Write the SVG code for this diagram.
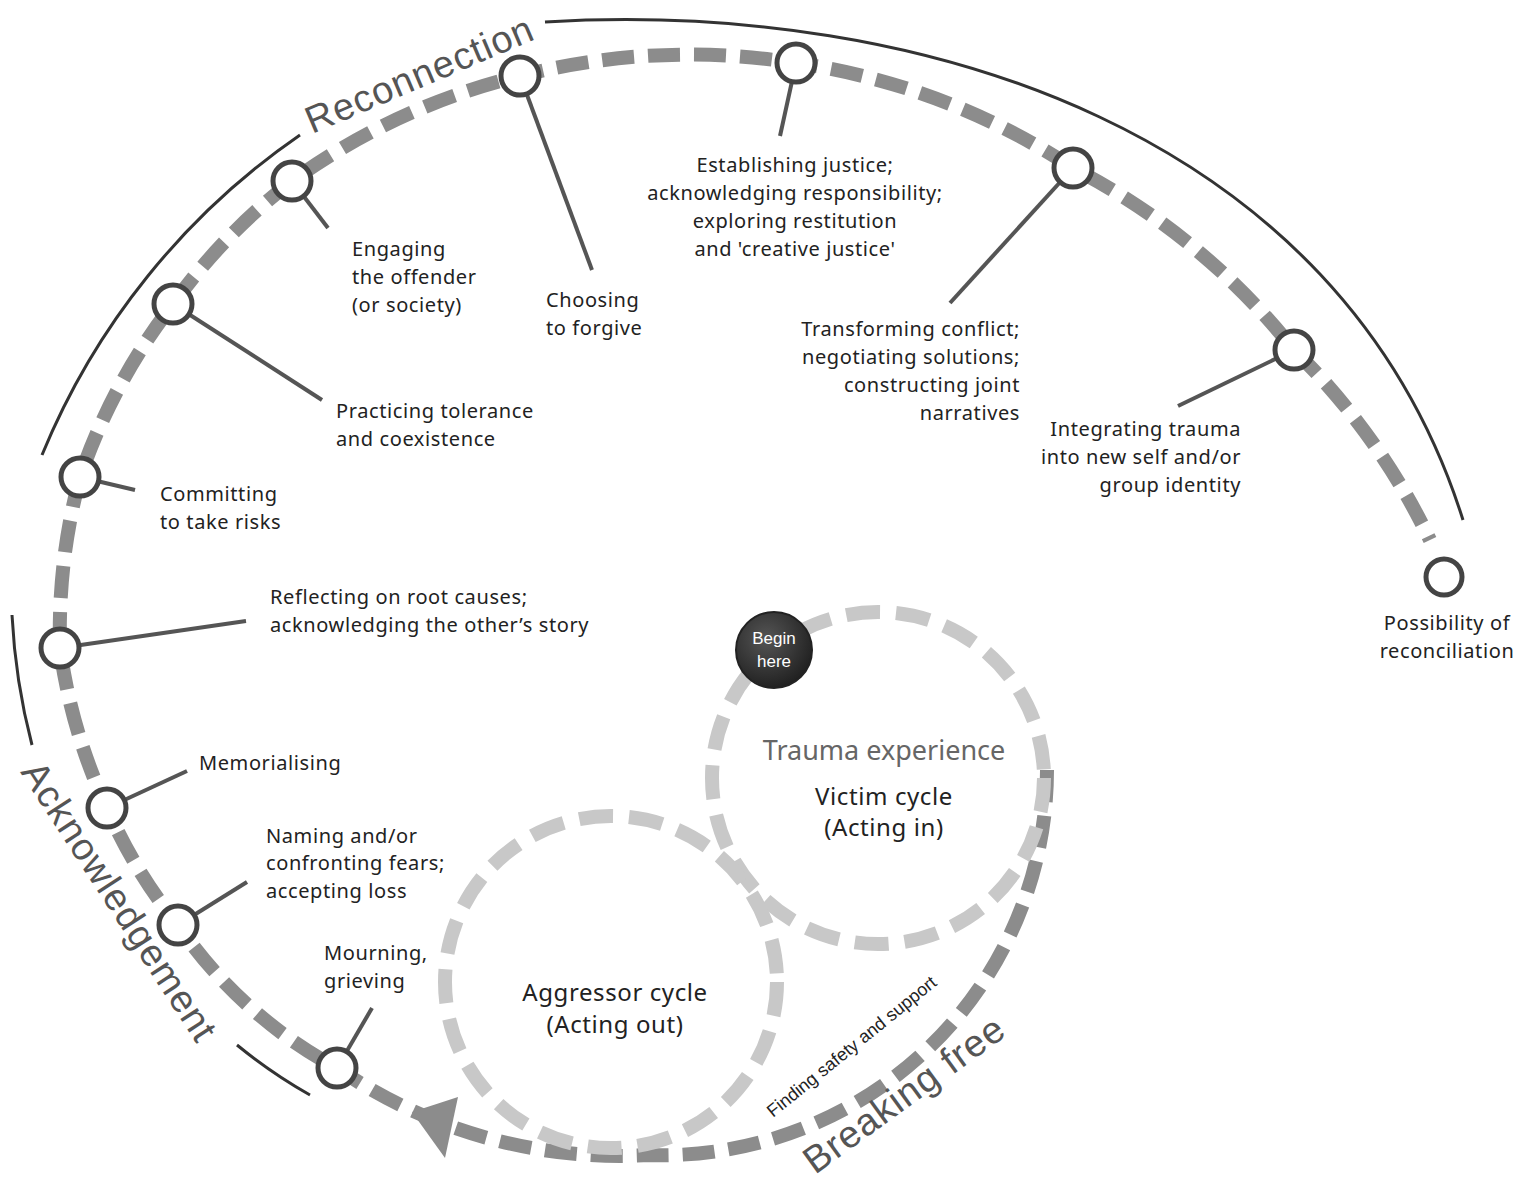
<svg xmlns="http://www.w3.org/2000/svg" width="1517" height="1184" viewBox="0 0 1517 1184">
<defs>
<style>
.t{font-family:"Noto Sans","Liberation Sans",sans-serif;font-size:20px;fill:#222;letter-spacing:0.6px}
.r{text-anchor:end}.m{text-anchor:middle}
.big{font-family:"Liberation Sans",sans-serif;font-size:38px;fill:#555;letter-spacing:1px}
.node circle{fill:#fff;stroke:#444;stroke-width:5}
.node line{stroke:#555;stroke-width:4}
.thin{fill:none;stroke:#333;stroke-width:3}
.cyc{fill:none;stroke:#c8c8c8;stroke-width:14;stroke-dasharray:34 16}
</style>
<radialGradient id="bg" cx="0.4" cy="0.35" r="0.7"><stop offset="0" stop-color="#555"/><stop offset="1" stop-color="#1e1e1e"/></radialGradient>
</defs>
<rect width="1517" height="1184" fill="#fff"/>
<g id="connectors">
<path class="thin" d="M42 455 A720 720 0 0 1 300 135"/>
<path class="thin" d="M545 22 C920 0 1340 130 1463 520"/>
<path class="thin" d="M12 615 A640 640 0 0 0 32 745"/>
<path class="thin" d="M237 1045 A520 520 0 0 0 310 1095"/>
<path d="M1047 770 A385 385 0 0 1 650 1155 A500 500 0 0 1 337 1068 A450 450 0 0 1 178 925 A500 500 0 0 1 107 808 A550 550 0 0 1 60 648 A600 600 0 0 1 80 477 A600 600 0 0 1 173 304 A600 600 0 0 1 292 181 A650 650 0 0 1 520 76 A680 680 0 0 1 796 63 A680 680 0 0 1 1073 168 A680 680 0 0 1 1294 350 A680 680 0 0 1 1430 540" fill="none" stroke="#8c8c8c" stroke-width="14" stroke-dasharray="32 14"/>
</g>
<g id="victim"><circle class="cyc" cx="878" cy="778" r="166"/>
<text class="m" x="884" y="760" style="font-family:'Noto Sans',sans-serif;font-size:27px;fill:#666">Trauma experience</text>
<text class="t m" x="884" y="805" style="font-size:24px">Victim cycle</text>
<text class="t m" x="884" y="836" style="font-size:24px">(Acting in)</text></g>
<g id="aggressor"><circle class="cyc" cx="611" cy="982" r="166"/>
<text class="t m" x="615" y="1001" style="font-size:24px">Aggressor cycle</text>
<text class="t m" x="615" y="1033" style="font-size:24px">(Acting out)</text></g>
<polygon points="412,1112 458,1097 445,1158" fill="#8c8c8c"/>
<g id="begin"><circle cx="774" cy="650" r="38" fill="url(#bg)" stroke="#222" stroke-width="2"/>
<text x="774" y="644" text-anchor="middle" font-family="Liberation Sans,sans-serif" font-size="17" fill="#fff">Begin</text>
<text x="774" y="667" text-anchor="middle" font-family="Liberation Sans,sans-serif" font-size="17" fill="#fff">here</text></g>
<text class="big" transform="translate(312 134) rotate(-23)">Reconnection</text>
<text class="big" transform="translate(20 772) rotate(57)">Acknowledgement</text>
<text class="big" transform="translate(815 1175) rotate(-36)">Breaking free</text>
<text font-family="Liberation Sans,sans-serif" font-size="18" fill="#222" transform="translate(773 1118) rotate(-39)">Finding safety and support</text>
<g id="n1" class="node"><line x1="337" y1="1068" x2="372" y2="1008"/><circle cx="337" cy="1068" r="19"/>
<text class="t" x="324" y="960">Mourning,</text><text class="t" x="324" y="988">grieving</text></g>
<g id="n2" class="node"><line x1="178" y1="925" x2="247" y2="882"/><circle cx="178" cy="925" r="19"/>
<text class="t" x="266" y="843">Naming and/or</text><text class="t" x="266" y="870">confronting fears;</text><text class="t" x="266" y="898">accepting loss</text></g>
<g id="n3" class="node"><line x1="107" y1="808" x2="187" y2="771"/><circle cx="107" cy="808" r="19"/>
<text class="t" x="199" y="770">Memorialising</text></g>
<g id="n4" class="node"><line x1="60" y1="648" x2="246" y2="621"/><circle cx="60" cy="648" r="19"/>
<text class="t" x="270" y="604">Reflecting on root causes;</text><text class="t" x="270" y="632">acknowledging the other’s story</text></g>
<g id="n5" class="node"><line x1="80" y1="477" x2="135" y2="490"/><circle cx="80" cy="477" r="19"/>
<text class="t" x="160" y="501">Committing</text><text class="t" x="160" y="529">to take risks</text></g>
<g id="n6" class="node"><line x1="173" y1="304" x2="322" y2="400"/><circle cx="173" cy="304" r="19"/>
<text class="t" x="336" y="418">Practicing tolerance</text><text class="t" x="336" y="446">and coexistence</text></g>
<g id="n7" class="node"><line x1="292" y1="181" x2="328" y2="228"/><circle cx="292" cy="181" r="19"/>
<text class="t" x="352" y="256">Engaging</text><text class="t" x="352" y="284">the offender</text><text class="t" x="352" y="312">(or society)</text></g>
<g id="n8" class="node"><line x1="520" y1="76" x2="592" y2="270"/><circle cx="520" cy="76" r="19"/>
<text class="t" x="546" y="307">Choosing</text><text class="t" x="546" y="335">to forgive</text></g>
<g id="n9" class="node"><line x1="796" y1="63" x2="780" y2="136"/><circle cx="796" cy="63" r="19"/>
<text class="t m" x="795" y="172">Establishing justice;</text><text class="t m" x="795" y="200">acknowledging responsibility;</text><text class="t m" x="795" y="228">exploring restitution</text><text class="t m" x="795" y="256">and 'creative justice'</text></g>
<g id="n10" class="node"><line x1="1073" y1="168" x2="950" y2="303"/><circle cx="1073" cy="168" r="19"/>
<text class="t r" x="1020" y="336">Transforming conflict;</text><text class="t r" x="1020" y="364">negotiating solutions;</text><text class="t r" x="1020" y="392">constructing joint</text><text class="t r" x="1020" y="420">narratives</text></g>
<g id="n11" class="node"><line x1="1294" y1="350" x2="1178" y2="406"/><circle cx="1294" cy="350" r="19"/>
<text class="t r" x="1241" y="436">Integrating trauma</text><text class="t r" x="1241" y="464">into new self and/or</text><text class="t r" x="1241" y="492">group identity</text></g>
<g id="n12" class="node"><circle cx="1444" cy="577" r="18"/>
<text class="t m" x="1447" y="630">Possibility of</text><text class="t m" x="1447" y="658">reconciliation</text></g>
</svg>
